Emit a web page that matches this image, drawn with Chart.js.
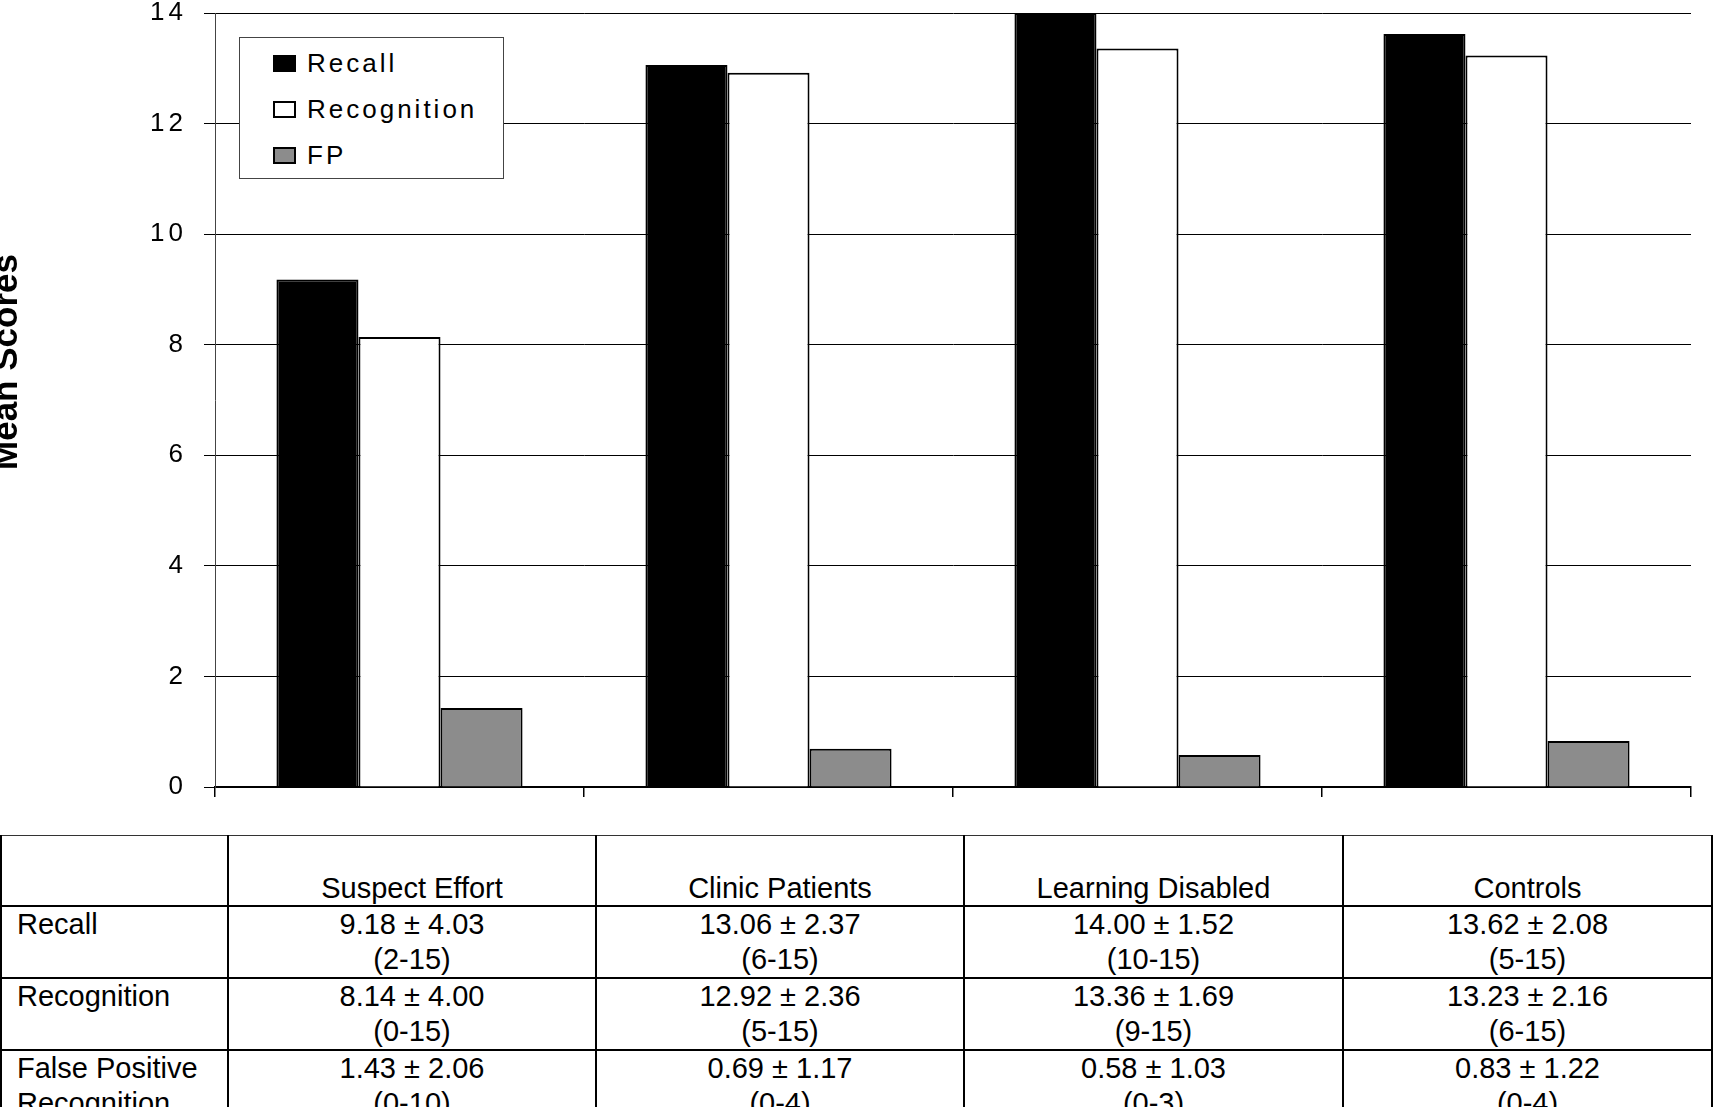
<!DOCTYPE html>
<html>
<head>
<meta charset="utf-8">
<script src="https://cdn.jsdelivr.net/npm/chart.js@4.4.1/dist/chart.umd.min.js"></script>
<style>
    html, body {
        margin: 0;
        padding: 0;
        background: #fff;
        width: 1714px;
        height: 1107px;
        overflow: hidden;
        font-family: "Liberation Sans", Arial, sans-serif;
    }
    #wrap {
        position: relative;
        width: 1714px;
        height: 1107px;
    }
    #scoreChart {
        position: absolute;
        left: 0;
        top: 0;
    }
    #legend {
        position: absolute;
        left: 239px;
        top: 37px;
        width: 263px;
        height: 138px;
        padding-top: 2px;
        border: 1px solid #444;
        background: #fff;
    }
    .legend-row {
        display: flex;
        align-items: center;
        height: 46px;
    }
    .legend-swatch {
        box-sizing: border-box;
        width: 23px;
        height: 17px;
        margin-left: 33px;
        border: 2px solid #000;
    }
    .legend-text {
        margin-left: 11px;
        font-size: 26px;
        letter-spacing: 3px;
        color: #000;
    }
    #dataTable {
        position: absolute;
        left: 0;
        top: 835px;
        border-collapse: collapse;
        table-layout: fixed;
        font-size: 29px;
        line-height: 35px;
        color: #000;
    }
    #dataTable td, #dataTable th {
        border: 2px solid #000;
        padding: 0;
        font-weight: normal;
        overflow: hidden;
        white-space: nowrap;
    }
    #dataTable th {
        border-top: 1px solid #333;
        height: 69px;
        vertical-align: bottom;
        text-align: center;
        line-height: 33px;
    }
    #dataTable td {
        vertical-align: top;
        text-align: center;
        height: 69px;
    }
    #dataTable td.row-label {
        text-align: left;
        padding-left: 15px;
    }
</style>
</head>
<body>
<div id="wrap">
    <canvas id="scoreChart" width="1714" height="800" style="width:1714px;height:800px"></canvas>
    <div id="legend"></div>
    <table id="dataTable">
        <colgroup>
            <col style="width:227px">
            <col style="width:368px">
            <col style="width:368px">
            <col style="width:379px">
            <col style="width:369px">
        </colgroup>
        <thead><tr id="headRow"><th></th></tr></thead>
        <tbody id="tableBody"></tbody>
    </table>
</div>
<script>
const groups = ["Suspect Effort", "Clinic Patients", "Learning Disabled", "Controls"];

const recallMean = [9.18, 13.06, 14.00, 13.62];
const recallSD = [4.03, 2.37, 1.52, 2.08];
const recallRange = ["2-15", "6-15", "10-15", "5-15"];

const recogMean = [8.14, 12.92, 13.36, 13.23];
const recogSD = [4.00, 2.36, 1.69, 2.16];
const recogRange = ["0-15", "5-15", "9-15", "6-15"];

const fpMean = [1.43, 0.69, 0.58, 0.83];
const fpSD = [2.06, 1.17, 1.03, 1.22];
const fpRange = ["0-10", "0-4", "0-3", "0-4"];

const yMin = 0;
const yMax = 14;
const yStep = 2;

const seriesNames = ["Recall", "Recognition", "FP"];
const rowNames = ["Recall", "Recognition", "False Positive Recognition"];

document.addEventListener("DOMContentLoaded", () => {
    const canvas = document.getElementById("scoreChart");

    // draws the rotated y title and sets wide letter spacing for tick labels
    const textPlugin = {
        id: "textStyle",
        beforeDraw(chart) {
            chart.ctx.letterSpacing = "4px";
        },
        afterDraw(chart) {
            const ctx = chart.ctx;
            ctx.save();
            ctx.letterSpacing = "0px";
            ctx.translate(17, 362);
            ctx.rotate(-Math.PI / 2);
            ctx.font = "bold 35px 'Liberation Sans', Arial, sans-serif";
            ctx.fillStyle = "#000";
            ctx.textAlign = "center";
            ctx.textBaseline = "alphabetic";
            ctx.fillText("Mean Scores", 0, 0);
            ctx.restore();
        },
    };

    const chart = new Chart(canvas, {
        type: "bar",
        data: {
            labels: groups,
            datasets: [
                {
                    label: seriesNames[0],
                    data: recallMean,
                    backgroundColor: "#000000",
                    borderColor: "#000000",
                    borderWidth: 2,
                },
                {
                    label: seriesNames[1],
                    data: recogMean,
                    backgroundColor: "#ffffff",
                    borderColor: "#000000",
                    borderWidth: 2,
                },
                {
                    label: seriesNames[2],
                    data: fpMean,
                    backgroundColor: "#8c8c8c",
                    borderColor: "#000000",
                    borderWidth: 2,
                },
            ],
        },
        options: {
            responsive: false,
            animation: false,
            devicePixelRatio: 1,
            layout: {
                padding: { left: 0, top: 13, right: 23, bottom: 0 },
            },
            categoryPercentage: 0.667,
            barPercentage: 1.0,
            plugins: {
                legend: { display: false },
                tooltip: { enabled: false },
            },
            scales: {
                x: {
                    grid: {
                        offset: true,
                        drawOnChartArea: false,
                        drawTicks: true,
                        tickLength: 10,
                        color: "#000",
                        lineWidth: 1.5,
                    },
                    border: { display: true, color: "#000", width: 2 },
                    ticks: { display: false },
                    afterFit(scale) {
                        scale.height = 13;
                        scale.paddingLeft = 0;
                        scale.paddingRight = 0;
                    },
                },
                y: {
                    min: yMin,
                    max: yMax,
                    ticks: {
                        stepSize: yStep,
                        color: "#000",
                        padding: 17,
                        font: { family: "'Liberation Sans', Arial, sans-serif", size: 26 },
                    },
                    grid: {
                        color: "#000",
                        lineWidth: 1,
                        tickLength: 11,
                    },
                    border: { display: true, color: "#444", width: 1 },
                    afterFit(scale) {
                        scale.width = 215;
                        scale.paddingTop = 0;
                        scale.paddingBottom = 0;
                    },
                },
            },
        },
        plugins: [textPlugin],
    });

    // legend box built from the chart datasets
    const legendBox = document.getElementById("legend");
    chart.data.datasets.forEach((ds) => {
        const row = document.createElement("div");
        row.className = "legend-row";
        const swatch = document.createElement("div");
        swatch.className = "legend-swatch";
        swatch.style.background = ds.backgroundColor;
        swatch.style.borderColor = ds.borderColor;
        const text = document.createElement("span");
        text.className = "legend-text";
        text.textContent = ds.label;
        row.appendChild(swatch);
        row.appendChild(text);
        legendBox.appendChild(row);
    });

    // data table under the chart
    const headRow = document.getElementById("headRow");
    groups.forEach((g) => {
        const th = document.createElement("th");
        th.textContent = g;
        headRow.appendChild(th);
    });

    const rows = [
        [recallMean, recallSD, recallRange],
        [recogMean, recogSD, recogRange],
        [fpMean, fpSD, fpRange],
    ];
    const body = document.getElementById("tableBody");
    rows.forEach(([means, sds, ranges], r) => {
        const tr = document.createElement("tr");
        const label = document.createElement("td");
        label.className = "row-label";
        if (r === 2) {
            label.innerHTML = "False Positive<br>Recognition";
        } else {
            label.textContent = rowNames[r];
        }
        tr.appendChild(label);
        means.forEach((m, i) => {
            const td = document.createElement("td");
            td.innerHTML = m.toFixed(2) + " \u00b1 " + sds[i].toFixed(2) + "<br>(" + ranges[i] + ")";
            tr.appendChild(td);
        });
        body.appendChild(tr);
    });
});
</script>
</body>
</html>
